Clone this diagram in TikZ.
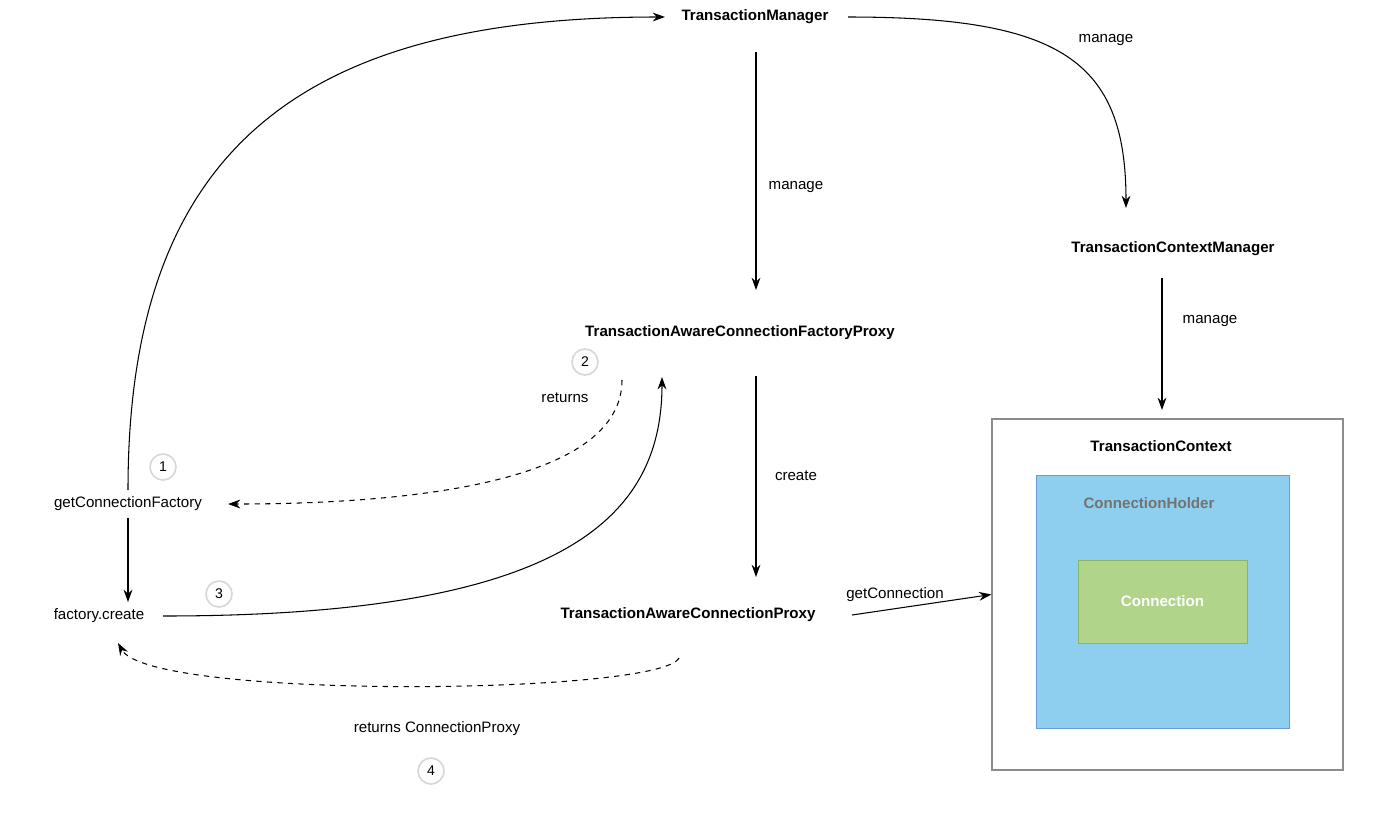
\documentclass[tikz,border=0pt]{standalone}
\usepackage{fontspec}
\setmainfont{Liberation Sans}
\usetikzlibrary{arrows.meta}
\begin{document}
\begin{tikzpicture}[x=0.02cm,y=-0.02cm,
  lbl/.style={font=\fontsize{8.6}{10}\selectfont},
  bl/.style={font=\fontsize{8.6}{10}\selectfont\bfseries},
  num/.style={circle,draw=black!15,line width=1pt,minimum size=0.52cm,inner sep=0pt,font=\fontsize{8}{10}\selectfont},
  arr/.style={-{Stealth[length=7pt,width=5pt]},line width=0.6pt},
  darr/.style={arr,dashed}]
\useasboundingbox (0,0) rectangle (1400,836);
\node[bl] (tm) at (755,17) {TransactionManager};
\node[bl] (tcm) at (1173,249) {TransactionContextManager};
\node[bl] (facp) at (740,333) {TransactionAwareConnectionFactoryProxy};
\node[bl] (acp) at (688,615) {TransactionAwareConnectionProxy};
\node[lbl] (gcf) at (128,504) {getConnectionFactory};
\node[lbl] (fc) at (99,616) {factory.create};
\node[lbl] at (1106,40) {manage};
\node[lbl] at (796,187) {manage};
\node[lbl] at (1210,321) {manage};
\node[lbl] at (796,476) {create};
\node[lbl] at (895,595) {getConnection};
\node[lbl] at (565,398) {returns};
\node[lbl] at (437,729) {returns ConnectionProxy};
\node[num] (n1) at (163,467) {1};
\node[num] (n2) at (585,362) {2};
\node[num] (n3) at (219,594) {3};
\node[num] (n4) at (431,771) {4};
\node[draw=black!45,line width=0.8pt,minimum width=7.02cm,minimum height=7.02cm] (tc) at (1167.5,594.5) {};
\node[bl] at (1161,446) {TransactionContext};
\node[draw=cyan!50!blue!60,fill={rgb,255:red,142;green,207;blue,240},minimum width=5.06cm,minimum height=5.06cm] (ch) at (1162.5,601.5) {};
\node[bl,text=black!55] at (1149,503) {ConnectionHolder};
\node[draw={rgb,255:red,140;green,180;blue,100},fill={rgb,255:red,176;green,213;blue,138},minimum width=3.38cm,minimum height=1.66cm,bl,text=white] (cn) at (1162.5,601.5) {Connection};
\coordinate (a1) at (128,490);
\coordinate (a2) at (665,17);
\draw[arr] (a1) .. controls (128,150) and (300,17) .. (a2);
\draw[arr] (128,518) -- (128,602);
\draw[arr] (848,17) .. controls (1060,17) and (1126,60) .. (1126,208);
\draw[arr] (756,52) -- (756,290);
\draw[arr] (1162,278) -- (1162,410);
\draw[arr] (756,376) -- (756,577);
\draw[arr] (852,615) -- (tc.west);
\draw[arr] (163,616) .. controls (560,616) and (662,520) .. (662,377);
\draw[darr] (622,380) .. controls (622,480) and (420,504) .. (228,504);
\draw[darr] (679,658) .. controls (660,695) and (150,700) .. (118,643);
\end{tikzpicture}
\end{document}
